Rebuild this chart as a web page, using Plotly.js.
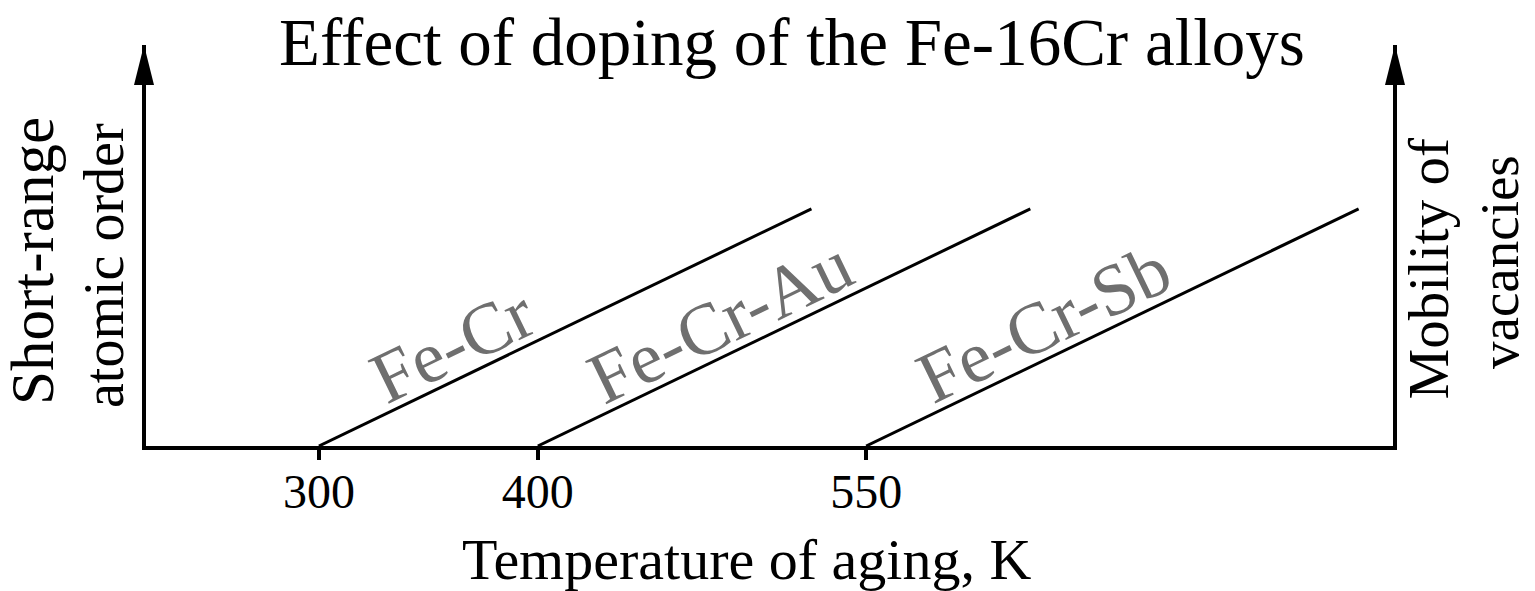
<!DOCTYPE html>
<html>
<head>
<meta charset="utf-8">
<script src="https://cdn.plot.ly/plotly-3.0.1.min.js"></script>
<style>
  html, body { margin: 0; padding: 0; background: #ffffff; }
  #chart { width: 1535px; height: 591px; }
</style>
</head>
<body>
<div id="chart"></div>
<script>
// ---------------- data ----------------
const seriesNames = ['Fe-Cr', 'Fe-Cr-Au', 'Fe-Cr-Sb'];
const onsetTemperatures = [300, 400, 550];   // K, where each line leaves the axis
const endTemperatures = [525, 625, 775];     // K, where each line ends
const onsetLevels = [0, 0, 0];
const endLevels = [1, 1, 1];
const tickValues = [300, 400, 550];
const tickLabels = ['300', '400', '550'];
const chartTitle = 'Effect of doping of the Fe-16Cr alloys';
const xTitle = 'Temperature of aging, K';
const leftTitleLines = ['Short-range', 'atomic order'];
const rightTitleLines = ['Mobility of', 'vacancies'];

// ---------------- layout / style ----------------
const FONT = '"Liberation Serif", "Times New Roman", Times, serif';
const W = 1535, H = 591;
const M = { l: 146, r: 142, t: 45, b: 145 };
const plotW = W - M.l - M.r;
const plotH = H - M.t - M.b;
const xRange = [221, 790.7];
const yRange = [0, 1.691];

const labelFrac = [0.30, 0.40, 0.39];
const labelAngle = -25.9;
const labelShift = { x: -14.5, y: 29.7 };
const labelColor = '#6f6f6f';

const px2paperX = px => (px - M.l) / plotW;
const py2paperY = py => (M.t + plotH - py) / plotH;

const traces = seriesNames.map((name, i) => ({
  type: 'scatter',
  mode: 'lines',
  name: name,
  x: [onsetTemperatures[i], endTemperatures[i]],
  y: [onsetLevels[i], endLevels[i]],
  line: { color: '#000000', width: 3 },
  showlegend: false,
  hoverinfo: 'skip'
}));

const annotations = [];

// series labels along each line
seriesNames.forEach((name, i) => {
  const f = labelFrac[i];
  annotations.push({
    xref: 'x', yref: 'y',
    x: onsetTemperatures[i] + f * (endTemperatures[i] - onsetTemperatures[i]),
    y: onsetLevels[i] + f * (endLevels[i] - onsetLevels[i]),
    xshift: labelShift.x, yshift: labelShift.y,
    text: name, showarrow: false,
    textangle: labelAngle,
    xanchor: 'center', yanchor: 'middle',
    font: { family: FONT, size: 73, color: labelColor }
  });
});

// x-axis title
annotations.push({
  xref: 'paper', yref: 'paper',
  x: px2paperX(746), y: py2paperY(559),
  text: xTitle, showarrow: false,
  xanchor: 'center', yanchor: 'middle',
  font: { family: FONT, size: 58, color: '#000000' }
});

// side titles (rotated)
const sideTitlePos = [
  { text: leftTitleLines[0], x: 32, y: 261, size: 61 },
  { text: leftTitleLines[1], x: 104, y: 266, size: 56 },
  { text: rightTitleLines[0], x: 1428.4, y: 269, size: 57 },
  { text: rightTitleLines[1], x: 1499, y: 262, size: 55 }
];
sideTitlePos.forEach(p => {
  annotations.push({
    xref: 'paper', yref: 'paper',
    x: px2paperX(p.x), y: py2paperY(p.y),
    text: p.text, showarrow: false, textangle: -90,
    xanchor: 'center', yanchor: 'middle',
    font: { family: FONT, size: p.size, color: '#000000' }
  });
});

// arrow heads at the top of both vertical axes
const shapes = [
  {
    type: 'path', xref: 'paper', yref: 'paper',
    xsizemode: 'pixel', ysizemode: 'pixel', xanchor: 0, yanchor: 1,
    path: 'M-2,0 L-12,-40 L8,-40 Z',
    fillcolor: '#000000', line: { width: 0 }
  },
  {
    type: 'path', xref: 'paper', yref: 'paper',
    xsizemode: 'pixel', ysizemode: 'pixel', xanchor: 1, yanchor: 1,
    path: 'M2,0 L-8,-40 L12,-40 Z',
    fillcolor: '#000000', line: { width: 0 }
  }
];

const layout = {
  width: W, height: H,
  margin: M,
  paper_bgcolor: '#ffffff',
  plot_bgcolor: '#ffffff',
  showlegend: false,
  title: {
    text: chartTitle,
    font: { family: FONT, size: 67, color: '#000000' },
    xref: 'container', x: 792 / W, xanchor: 'center',
    yref: 'container', y: 1 - 65 / H, yanchor: 'bottom'
  },
  xaxis: {
    range: xRange,
    showline: true, linewidth: 4, linecolor: '#000000',
    ticks: 'outside', ticklen: 10, tickwidth: 4, tickcolor: '#000000',
    tickmode: 'array', tickvals: tickValues, ticktext: tickLabels,
    ticklabelstandoff: -10,
    tickfont: { family: FONT, size: 48, color: '#000000' },
    showgrid: false, zeroline: false, fixedrange: true
  },
  yaxis: {
    range: yRange,
    showline: true, mirror: true, linewidth: 4, linecolor: '#000000',
    ticks: '', showticklabels: false,
    showgrid: false, zeroline: false, fixedrange: true
  },
  annotations: annotations,
  shapes: shapes
};

Plotly.newPlot('chart', traces, layout, { staticPlot: true, displayModeBar: false });
</script>
</body>
</html>
